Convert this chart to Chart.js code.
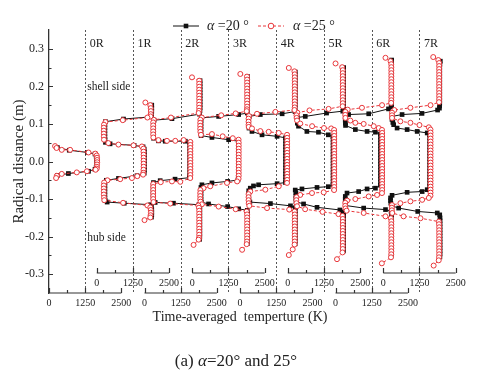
<!DOCTYPE html>
<html>
<head>
<meta charset="utf-8">
<script src="https://cdn.jsdelivr.net/npm/chart.js@4.4.1/dist/chart.umd.min.js"></script>
<style>
  html, body { margin: 0; padding: 0; background: #fff; }
  #wrap { position: relative; width: 480px; height: 392px; }
  #caption { position: absolute; left: 0; top: 351px; width: 472px; text-align: center;
             font: 17px "Liberation Serif", serif; color: #222; }
</style>
</head>
<body>
<div id="wrap">
  <canvas id="chart" width="480" height="392"></canvas>
  <div id="caption">(a) <i>α</i>=20° and 25°</div>
</div>
<script>
// stations along the flow, each with its own 0..2500 K sub-axis
const STATIONS = ['0R', '1R', '2R', '3R', '4R', '5R', '6R', '7R'];
const STEP = 1650;              // shift in K between two station sub-axes
const SUB_TICKS = [0, 625, 1250, 1875, 2500];
const SUB_LABELS = [0, 1250, 2500];
const Y_TICKS = [-0.3, -0.2, -0.1, 0, 0.1, 0.2, 0.3];
const Y_MINOR = [-0.25, -0.15, -0.05, 0.05, 0.15, 0.25];

// [temperature K, radial distance m], alpha = 20 deg
const a20_0R = [[290,.037],[700,.030],[1330,.024],[1590,.020],[1630,.014],[1640,.008],[1640,.002],[1640,-.004],[1640,-.010],[1630,-.016],[1590,-.021],[1365,-.026],[670,-.032],[290,-.037]];
const a20_1R = [[1900,.150],[1900,.142],[1900,.134],[1895,.126],[1885,.119],[925,.113],[300,.106],[280,.098],[280,.090],[280,.082],[280,.074],[280,.066],[285,.058],[300,.051],[460,.047],[1290,.043],[1600,.039],[1640,.033],[1645,.025],[1645,.017],[1645,.009],[1645,.001],[1645,-.007],[1645,-.015],[1645,-.023],[1640,-.031],[1390,-.038],[750,-.045],[330,-.050],[280,-.057],[280,-.065],[280,-.073],[280,-.081],[280,-.089],[280,-.097],[290,-.104],[360,-.108],[950,-.111],[1860,-.115],[1890,-.121],[1900,-.128],[1900,-.135],[1900,-.142],[1890,-.148]];
const a20_2R = [[1920,.215],[1920,.207],[1920,.199],[1920,.191],[1920,.183],[1920,.175],[1920,.167],[1920,.159],[1920,.151],[1920,.143],[1915,.135],[1900,.126],[948,.114],[330,.110],[310,.102],[310,.094],[310,.086],[310,.078],[310,.070],[310,.062],[483,.055],[715,.054],[1410,.054],[1560,.050],[1565,.042],[1565,.034],[1565,.026],[1565,.018],[1565,.010],[1565,.002],[1565,-.006],[1565,-.014],[1565,-.022],[1565,-.030],[1560,-.038],[1550,-.043],[1055,-.047],[542,-.051],[309,-.056],[300,-.063],[300,-.071],[300,-.079],[300,-.087],[300,-.095],[305,-.103],[368,-.109],[1000,-.111],[1880,-.115],[1910,-.121],[1910,-.129],[1910,-.137],[1910,-.145],[1910,-.153],[1910,-.161],[1910,-.169],[1910,-.177],[1910,-.185],[1910,-.193],[1910,-.201],[1905,-.207]];
const a20_3R = [[1910,.226],[1910,.218],[1910,.210],[1910,.202],[1910,.194],[1910,.186],[1910,.178],[1910,.170],[1910,.162],[1910,.154],[1910,.146],[1905,.138],[1900,.129],[1604,.125],[910,.120],[320,.116],[300,.109],[300,.101],[300,.093],[300,.085],[300,.077],[305,.069],[680,.064],[1257,.058],[1590,.054],[1595,.046],[1595,.038],[1595,.030],[1595,.022],[1595,.014],[1595,.006],[1595,-.002],[1595,-.010],[1595,-.018],[1595,-.026],[1595,-.034],[1590,-.042],[1580,-.049],[1222,-.053],[680,-.057],[333,-.062],[300,-.069],[300,-.077],[300,-.085],[300,-.093],[300,-.101],[310,-.108],[562,-.113],[1222,-.120],[1604,-.126],[1900,-.130],[1910,-.138],[1910,-.146],[1910,-.154],[1910,-.162],[1910,-.170],[1910,-.178],[1910,-.186],[1910,-.194],[1910,-.202],[1910,-.210],[1905,-.218]];
const a20_4R = [[1910,.238],[1910,.230],[1910,.222],[1910,.214],[1910,.206],[1910,.198],[1910,.190],[1910,.182],[1910,.174],[1910,.166],[1910,.158],[1910,.150],[1905,.142],[1900,.133],[1455,.127],[701,.125],[320,.120],[300,.113],[300,.105],[300,.097],[310,.089],[413,.080],[760,.071],[1281,.067],[1570,.063],[1575,.055],[1575,.047],[1575,.039],[1575,.031],[1575,.023],[1575,.015],[1575,.007],[1575,-.001],[1575,-.009],[1575,-.017],[1575,-.025],[1575,-.033],[1575,-.041],[1575,-.049],[1570,-.056],[1281,-.059],[642,-.062],[465,-.065],[354,-.071],[300,-.078],[300,-.086],[300,-.094],[305,-.102],[340,-.108],[1050,-.112],[1743,-.118],[1905,-.123],[1910,-.131],[1910,-.139],[1910,-.147],[1910,-.155],[1910,-.163],[1910,-.171],[1910,-.179],[1910,-.187],[1910,-.195],[1910,-.203],[1910,-.211],[1905,-.219]];
const a20_5R = [[1930,.250],[1930,.242],[1930,.234],[1930,.226],[1930,.218],[1930,.210],[1930,.202],[1930,.194],[1930,.186],[1930,.178],[1930,.170],[1930,.162],[1930,.154],[1925,.146],[1920,.139],[1900,.134],[1340,.129],[604,.120],[330,.117],[330,.110],[330,.102],[370,.094],[660,.080],[1060,.078],[1400,.071],[1560,.066],[1565,.058],[1565,.050],[1565,.042],[1565,.034],[1565,.026],[1565,.018],[1565,.010],[1565,.002],[1565,-.006],[1565,-.014],[1565,-.022],[1565,-.030],[1565,-.038],[1565,-.046],[1565,-.054],[1560,-.062],[1400,-.067],[1010,-.069],[490,-.073],[257,-.076],[280,-.083],[280,-.091],[280,-.099],[285,-.107],[545,-.113],[1010,-.122],[1800,-.129],[1920,-.134],[1930,-.142],[1930,-.150],[1930,-.158],[1930,-.166],[1930,-.174],[1930,-.182],[1930,-.190],[1930,-.198],[1930,-.206],[1930,-.214],[1930,-.222],[1930,-.230],[1925,-.238]];
const a20_6R = [[1940,.270],[1940,.262],[1940,.254],[1940,.246],[1940,.238],[1940,.230],[1940,.222],[1940,.214],[1940,.206],[1940,.198],[1940,.190],[1940,.182],[1940,.174],[1940,.166],[1940,.158],[1935,.151],[1920,.146],[1830,.140],[1146,.127],[451,.125],[340,.118],[335,.110],[340,.102],[345,.096],[684,.085],[1090,.080],[1378,.078],[1550,.073],[1555,.065],[1555,.057],[1555,.049],[1555,.041],[1555,.033],[1555,.025],[1555,.017],[1555,.009],[1555,.001],[1555,-.007],[1555,-.015],[1555,-.023],[1555,-.031],[1555,-.039],[1555,-.047],[1555,-.055],[1550,-.063],[1378,-.071],[1090,-.073],[799,-.080],[396,-.084],[337,-.093],[335,-.101],[340,-.109],[350,-.117],[972,-.124],[1726,-.128],[1920,-.133],[1935,-.141],[1935,-.149],[1935,-.157],[1935,-.165],[1935,-.173],[1935,-.181],[1935,-.189],[1935,-.197],[1935,-.205],[1935,-.213],[1935,-.221],[1935,-.229],[1935,-.237],[1930,-.245],[1925,-.251]];
const a20_7R = [[1970,.267],[1955,.259],[1950,.251],[1950,.243],[1950,.235],[1950,.227],[1950,.219],[1950,.211],[1950,.203],[1950,.195],[1950,.187],[1950,.179],[1950,.171],[1950,.163],[1950,.155],[1945,.148],[1940,.142],[1875,.137],[1337,.128],[649,.125],[310,.120],[300,.112],[330,.104],[358,.098],[476,.089],[823,.085],[1170,.080],[1517,.076],[1600,.071],[1605,.063],[1605,.055],[1605,.047],[1605,.039],[1605,.031],[1605,.023],[1605,.015],[1605,.007],[1605,-.001],[1605,-.009],[1605,-.017],[1605,-.025],[1605,-.033],[1605,-.041],[1605,-.049],[1605,-.057],[1600,-.065],[1517,-.075],[1343,-.080],[823,-.082],[302,-.090],[250,-.097],[250,-.104],[260,-.111],[300,-.118],[531,-.124],[1190,-.133],[1864,-.137],[1950,-.142],[1960,-.150],[1960,-.158],[1960,-.166],[1960,-.174],[1960,-.182],[1960,-.190],[1960,-.198],[1960,-.206],[1960,-.214],[1960,-.222],[1960,-.230],[1960,-.238],[1960,-.246],[1955,-.254]];

// alpha = 25 deg
const a25_0R = [[210,.041],[260,.036],[440,.031],[730,.031],[1365,.024],[1600,.021],[1650,.016],[1660,.010],[1665,.004],[1665,-.002],[1660,-.008],[1655,-.014],[1650,-.019],[1610,-.022],[1310,-.026],[960,-.029],[440,-.033],[270,-.038],[245,-.044]];
const a25_1R = [[1680,.157],[1850,.150],[1865,.142],[1870,.134],[1865,.126],[1855,.120],[1750,.117],[900,.110],[300,.105],[250,.098],[245,.090],[245,.082],[245,.074],[245,.066],[250,.058],[400,.049],[750,.045],[1270,.043],[1560,.040],[1610,.034],[1615,.026],[1620,.018],[1620,.010],[1620,.002],[1620,-.006],[1620,-.014],[1615,-.022],[1610,-.030],[1600,-.035],[1400,-.039],[1215,-.044],[810,-.047],[370,-.050],[255,-.056],[245,-.064],[245,-.072],[245,-.080],[245,-.088],[250,-.096],[260,-.103],[910,-.110],[1750,-.117],[1850,-.122],[1865,-.129],[1870,-.136],[1860,-.143],[1850,-.149],[1650,-.156]];
const a25_2R = [[1640,.224],[1890,.215],[1890,.207],[1890,.199],[1890,.191],[1890,.183],[1890,.175],[1890,.167],[1890,.159],[1890,.151],[1890,.143],[1885,.135],[1870,.129],[913,.117],[320,.111],[300,.104],[300,.096],[300,.088],[300,.080],[300,.072],[305,.064],[480,.057],[775,.055],[1063,.055],[1352,.057],[1585,.052],[1585,.044],[1585,.036],[1585,.028],[1585,.020],[1585,.012],[1585,.004],[1585,-.004],[1585,-.012],[1585,-.020],[1585,-.028],[1585,-.036],[1580,-.044],[1236,-.054],[948,-.053],[560,-.055],[300,-.060],[300,-.068],[300,-.076],[300,-.084],[300,-.092],[300,-.100],[310,-.108],[889,-.112],[1860,-.117],[1880,-.123],[1890,-.131],[1890,-.139],[1890,-.147],[1890,-.155],[1890,-.163],[1890,-.171],[1890,-.179],[1890,-.187],[1890,-.195],[1885,-.203],[1870,-.208],[1695,-.222]];
const a25_3R = [[1660,.233],[1890,.226],[1895,.218],[1895,.210],[1895,.202],[1895,.194],[1895,.186],[1895,.178],[1895,.170],[1895,.162],[1895,.154],[1895,.146],[1890,.139],[1880,.134],[1500,.128],[1000,.123],[330,.117],[280,.111],[275,.103],[275,.095],[275,.087],[280,.079],[300,.071],[680,.073],[1050,.067],[1400,.062],[1600,.058],[1605,.050],[1605,.042],[1605,.034],[1605,.026],[1605,.018],[1605,.010],[1605,.002],[1605,-.006],[1605,-.014],[1605,-.022],[1605,-.030],[1605,-.038],[1600,-.046],[1550,-.053],[1200,-.057],[620,-.066],[390,-.071],[280,-.076],[275,-.084],[275,-.092],[275,-.100],[285,-.107],[330,-.114],[910,-.120],[1500,-.127],[1880,-.133],[1895,-.141],[1895,-.149],[1895,-.157],[1895,-.165],[1895,-.173],[1895,-.181],[1895,-.189],[1895,-.197],[1895,-.205],[1890,-.213],[1880,-.220],[1722,-.235]];
const a25_4R = [[1685,.249],[1880,.240],[1890,.232],[1892,.224],[1892,.216],[1892,.208],[1892,.200],[1892,.192],[1892,.184],[1892,.176],[1892,.168],[1892,.160],[1892,.152],[1890,.144],[1880,.137],[1222,.132],[587,.127],[310,.121],[295,.114],[295,.106],[295,.098],[300,.092],[413,.088],[701,.081],[990,.079],[1337,.076],[1625,.071],[1628,.063],[1628,.055],[1628,.047],[1628,.039],[1628,.031],[1628,.023],[1628,.015],[1628,.007],[1628,-.001],[1628,-.009],[1628,-.017],[1628,-.025],[1628,-.033],[1628,-.041],[1628,-.049],[1625,-.057],[1337,-.066],[875,-.075],[354,-.080],[295,-.087],[295,-.095],[295,-.103],[300,-.111],[320,-.118],[934,-.124],[1700,-.128],[1885,-.133],[1892,-.141],[1892,-.149],[1892,-.157],[1892,-.165],[1892,-.173],[1892,-.181],[1892,-.189],[1892,-.197],[1892,-.205],[1892,-.213],[1885,-.221],[1820,-.234],[1685,-.249]];
const a25_5R = [[1650,.261],[1880,.251],[1900,.243],[1900,.235],[1900,.227],[1900,.219],[1900,.211],[1900,.203],[1900,.195],[1900,.187],[1900,.179],[1900,.171],[1900,.163],[1900,.155],[1895,.147],[1410,.140],[750,.136],[330,.130],[300,.123],[305,.116],[320,.109],[430,.101],[840,.094],[1250,.089],[1500,.088],[1600,.084],[1605,.076],[1605,.068],[1605,.060],[1605,.052],[1605,.044],[1605,.036],[1605,.028],[1605,.020],[1605,.012],[1605,.004],[1605,-.004],[1605,-.012],[1605,-.020],[1605,-.028],[1605,-.036],[1605,-.044],[1605,-.052],[1605,-.060],[1605,-.068],[1600,-.076],[1240,-.082],[837,-.084],[430,-.089],[300,-.095],[295,-.103],[300,-.111],[320,-.119],[600,-.127],[1200,-.134],[1750,-.140],[1890,-.145],[1900,-.153],[1900,-.161],[1900,-.169],[1900,-.177],[1900,-.185],[1900,-.193],[1900,-.201],[1900,-.209],[1900,-.217],[1900,-.225],[1900,-.233],[1890,-.242],[1700,-.260]];
const a25_6R = [[1726,.276],[1900,.267],[1925,.259],[1927,.251],[1927,.243],[1927,.235],[1927,.227],[1927,.219],[1927,.211],[1927,.203],[1927,.195],[1927,.187],[1927,.179],[1927,.171],[1927,.163],[1920,.156],[1607,.150],[912,.143],[420,.138],[340,.132],[335,.124],[340,.116],[510,.109],[684,.103],[972,.100],[1319,.094],[1493,.089],[1605,.084],[1610,.076],[1610,.068],[1610,.060],[1610,.052],[1610,.044],[1610,.036],[1610,.028],[1610,.020],[1610,.012],[1610,.004],[1610,-.004],[1610,-.012],[1610,-.020],[1610,-.028],[1610,-.036],[1610,-.044],[1610,-.052],[1610,-.060],[1610,-.068],[1610,-.076],[1605,-.084],[1435,-.089],[1146,-.093],[684,-.100],[400,-.104],[335,-.110],[335,-.118],[345,-.125],[380,-.131],[972,-.137],[1726,-.146],[1910,-.151],[1927,-.159],[1927,-.167],[1927,-.175],[1927,-.183],[1927,-.191],[1927,-.199],[1927,-.207],[1927,-.215],[1927,-.223],[1927,-.231],[1927,-.239],[1925,-.247],[1915,-.255],[1600,-.271]];
const a25_7R = [[1725,.278],[1900,.270],[1930,.262],[1930,.254],[1930,.246],[1930,.238],[1930,.230],[1930,.222],[1930,.214],[1930,.206],[1930,.198],[1930,.190],[1930,.182],[1930,.174],[1930,.166],[1925,.158],[1632,.150],[937,.143],[380,.137],[300,.130],[300,.123],[302,.116],[590,.107],[937,.103],[1250,.097],[1573,.091],[1630,.085],[1632,.077],[1632,.069],[1632,.061],[1632,.053],[1632,.045],[1632,.037],[1632,.029],[1632,.021],[1632,.013],[1632,.005],[1632,-.003],[1632,-.011],[1632,-.019],[1632,-.027],[1632,-.035],[1632,-.043],[1632,-.051],[1632,-.059],[1632,-.067],[1632,-.075],[1632,-.083],[1630,-.091],[1573,-.097],[1343,-.102],[937,-.106],[590,-.111],[300,-.116],[295,-.123],[295,-.130],[310,-.137],[700,-.146],[1285,-.151],[1920,-.160],[1925,-.167],[1930,-.175],[1930,-.183],[1930,-.191],[1930,-.199],[1930,-.207],[1930,-.215],[1930,-.223],[1930,-.231],[1930,-.239],[1930,-.247],[1925,-.255],[1915,-.263],[1740,-.277]];

const series20 = [a20_0R, a20_1R, a20_2R, a20_3R, a20_4R, a20_5R, a20_6R, a20_7R];
const series25 = [a25_0R, a25_1R, a25_2R, a25_3R, a25_4R, a25_5R, a25_6R, a25_7R];

const RED = '#e8363a';
const INK = '#222';
const SERIF = '"Liberation Serif", "Times New Roman", serif';

// shift each station's profile onto its own sub-axis
const toXY = (pts, k) => pts.map(([t, r]) => ({ x: k * STEP + t, y: r }));

const datasets = [];
series25.forEach((pts, k) => datasets.push({
  label: 'α =25 °', data: toXY(pts, k), showLine: true, order: 0,
  borderColor: RED, borderWidth: 1, borderDash: [3, 2],
  pointStyle: 'circle', pointRadius: 2.5, pointBorderWidth: 1,
  pointBorderColor: RED, pointBackgroundColor: '#fff'
}));
series20.forEach((pts, k) => datasets.push({
  label: 'α =20 °', data: toXY(pts, k), showLine: true, order: 1,
  borderColor: '#111', borderWidth: 1,
  pointStyle: 'rect', pointRadius: 3.3, pointBorderWidth: 0,
  pointBackgroundColor: '#111'
}));

// dashed lines, sub-axes, labels and legend
const overlay = {
  id: 'overlay',
  beforeDatasetsDraw(chart) {
    const { ctx, chartArea: a, scales: { x } } = chart;
    ctx.save();
    ctx.strokeStyle = '#555';
    ctx.lineWidth = 1;
    ctx.setLineDash([2, 2]);
    STATIONS.forEach((s, k) => {
      const px = Math.round(x.getPixelForValue(k * STEP + 1250)) + 0.5;
      ctx.beginPath();
      ctx.moveTo(px, a.top);
      ctx.lineTo(px, a.bottom);
      ctx.stroke();
    });
    ctx.restore();
  },
  afterDraw(chart) {
    const { ctx, chartArea: a, scales: { x, y } } = chart;
    ctx.save();
    ctx.strokeStyle = '#333';
    ctx.fillStyle = INK;

    // y ticks pointing inward
    ctx.lineWidth = 1;
    Y_TICKS.concat(Y_MINOR).forEach(v => {
      const py = Math.round(y.getPixelForValue(v)) + 0.5;
      const len = Y_TICKS.includes(v) ? 4 : 2.5;
      ctx.beginPath();
      ctx.moveTo(a.left, py);
      ctx.lineTo(a.left + len, py);
      ctx.stroke();
    });

    // one bracket axis per station, alternating rows
    ctx.font = '10px ' + SERIF;
    ctx.textAlign = 'center';
    ctx.textBaseline = 'middle';
    STATIONS.forEach((s, k) => {
      const base = k * STEP;
      const row = k % 2 === 0 ? a.bottom : a.bottom - 20;
      ctx.lineWidth = 1.2;
      ctx.beginPath();
      ctx.moveTo(x.getPixelForValue(base), row);
      ctx.lineTo(x.getPixelForValue(base + 2500), row);
      ctx.stroke();
      SUB_TICKS.forEach(t => {
        const px = Math.round(x.getPixelForValue(base + t)) + 0.5;
        ctx.beginPath();
        ctx.moveTo(px, row);
        ctx.lineTo(px, row - (t % 1250 === 0 ? 5 : 3));
        ctx.stroke();
      });
      SUB_LABELS.forEach(t => ctx.fillText(String(t), x.getPixelForValue(base + t), row + 10));
    });

    // station names
    ctx.font = '12px ' + SERIF;
    ctx.textAlign = 'left';
    STATIONS.forEach((s, k) => {
      ctx.fillText(s, x.getPixelForValue(k * STEP + 1250) + 4.5, a.top + 14);
    });

    ctx.font = '11.5px ' + SERIF;
    ctx.fillText('shell side', x.getPixelForValue(1250) + 2, y.getPixelForValue(0.197));
    ctx.fillText('hub side', x.getPixelForValue(1250) + 2, y.getPixelForValue(-0.203));

    // x axis title
    ctx.font = '14px ' + SERIF;
    ctx.textAlign = 'center';
    ctx.fillText('Time-averaged  temperture (K)', 240, 317);

    // legend
    const ly = 26;
    ctx.textAlign = 'left';
    ctx.setLineDash([]);
    ctx.strokeStyle = '#111';
    ctx.lineWidth = 1;
    ctx.beginPath(); ctx.moveTo(173, ly); ctx.lineTo(199, ly); ctx.stroke();
    ctx.fillStyle = '#111';
    ctx.fillRect(186 - 2.3, ly - 2.3, 4.6, 4.6);
    ctx.strokeStyle = RED;
    ctx.setLineDash([3, 2]);
    ctx.beginPath(); ctx.moveTo(258, ly); ctx.lineTo(284, ly); ctx.stroke();
    ctx.setLineDash([]);
    ctx.fillStyle = '#fff';
    ctx.beginPath(); ctx.arc(271, ly, 2.8, 0, Math.PI * 2); ctx.fill(); ctx.stroke();
    ctx.fillStyle = INK;
    [[207, '=20 °'], [293, '=25 °']].forEach(([lx, txt]) => {
      ctx.font = 'italic 14px ' + SERIF;
      ctx.fillText('α', lx, ly);
      const w = ctx.measureText('α ').width;
      ctx.font = '14px ' + SERIF;
      ctx.fillText(txt, lx + w, ly);
    });
    ctx.restore();
  }
};

new Chart(document.getElementById('chart'), {
  type: 'scatter',
  data: { datasets },
  options: {
    responsive: false,
    animation: false,
    layout: { padding: { left: 0, top: 30, right: 20, bottom: 99 } },
    plugins: { legend: { display: false }, tooltip: { enabled: false } },
    scales: {
      x: { type: 'linear', min: 0, max: 14200, display: false },
      y: {
        type: 'linear', min: -0.35, max: 0.35,
        afterFit: s => { s.width = 49; },
        afterBuildTicks: s => { s.ticks = Y_TICKS.map(v => ({ value: v })); },
        grid: { display: false, drawTicks: false },
        border: { display: true, color: '#333', width: 1.3 },
        ticks: {
          padding: 5, color: INK,
          font: { family: SERIF, size: 12 },
          callback: v => v.toFixed(1)
        },
        title: {
          display: true, text: 'Radical distance (m)', color: INK,
          font: { family: SERIF, size: 15 }, padding: { top: 10, bottom: 0 }
        }
      }
    }
  },
  plugins: [overlay]
});
</script>
</body>
</html>
